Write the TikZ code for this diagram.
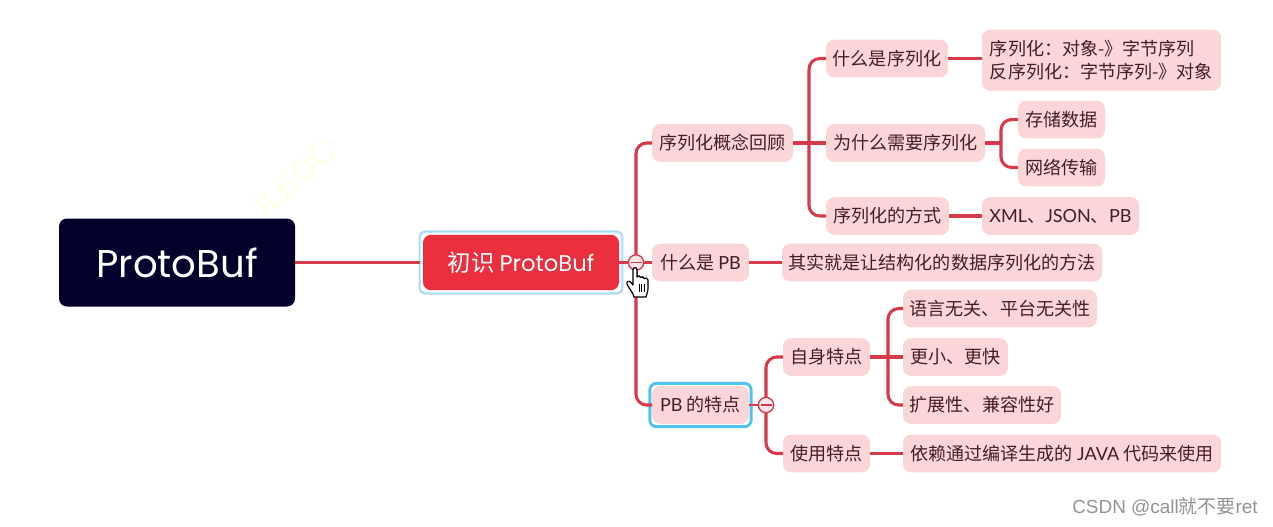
\documentclass[tikz,border=0pt]{standalone}
\usepackage{fontspec}
\setmainfont{Noto Sans CJK SC}
\newfontfamily\latf{Lato}
\newfontfamily\titlef{Poppins}
\newfontfamily\markf{Liberation Sans}
\definecolor{linkc}{HTML}{D63A4B}
\definecolor{pinkc}{HTML}{FBD6D8}
\definecolor{textc}{HTML}{4A1C22}
\definecolor{navyc}{HTML}{03002B}
\definecolor{redc}{HTML}{EC2F3E}
\definecolor{hlc}{HTML}{A8DCF5}
\definecolor{selc}{HTML}{4FC3EE}
\tikzset{
  x=0.75pt,y=-0.75pt,
  boxn/.style={fill=pinkc,rounded corners=6pt,text=textc,font=\fontsize{13.55}{17}\selectfont,inner sep=0pt,outer sep=0pt,align=left,minimum height=28.2pt},
  link/.style={draw=linkc,line width=2.3pt,rounded corners=8pt},
  toggle/.style={circle,draw=linkc,fill=pinkc!60!white,line width=1pt,minimum size=11.5pt,inner sep=0pt,outer sep=0pt},
}
\newcommand{\bx}[5]{\node[boxn,minimum width=#3*0.75pt] (#1) at (#2) {\raisebox{-0.6pt}{#4}};}
\begin{document}
\begin{tikzpicture}
\useasboundingbox (0,0) rectangle (1273,526);
\fill[white] (0,0) rectangle (1273,526);
% faint background mark
\node[text=yellow!10!white,rotate=42,inner sep=0pt,font=\markf\fontsize{24}{26}\selectfont] (bgm) at (295,178) {ILEOC};
% nodes
\node[fill=navyc,rounded corners=6pt,text=white,minimum width=177pt,minimum height=66pt,inner sep=0pt,outer sep=0pt,font=\titlef\fontsize{29}{32}\selectfont] (root) at (177,262.5) {ProtoBuf};
\node[draw=hlc,line width=1.6pt,rounded corners=4pt,minimum width=152pt,minimum height=46.5pt,inner sep=0pt,outer sep=0pt] (mainhl) at (521,262.5) {};
\node[fill=redc,rounded corners=6pt,text=white,minimum width=147pt,minimum height=41.5pt,inner sep=0pt,outer sep=0pt,font=\fontsize{17.5}{20}\selectfont] (main) at (521,262.5) {初识 {\titlef\fontsize{17}{20}\selectfont ProtoBuf}};
\coordinate (t1) at (636,262.5);
\coordinate (t2) at (809,143);
\coordinate (t3) at (1001,143);
\coordinate (t4) at (766,405);
\coordinate (t5) at (888,357);
% boxes: name, centre, width, text
\bx{a}{722.5,143}{141}{序列化概念回顾}{}
\bx{b}{700.5,262.5}{97}{什么是 {\latf PB}}{}
\node[draw=selc,line width=2.2pt,rounded corners=5pt,minimum width=76pt,minimum height=32.5pt,inner sep=0pt,outer sep=0pt] (chl) at (700.5,405) {};
\bx{c}{700.5,405}{97}{{\latf PB} 的特点}{}
\bx{a1}{887,58.5}{122}{什么是序列化}{}
\bx{a2}{905.5,143}{159}{为什么需要序列化}{}
\bx{a3}{887.5,216}{123}{序列化的方式}{}
\node[boxn,minimum width=179.25pt,minimum height=45.7pt,yshift=-0.4pt] (a1x) at (1101.5,59.5) {序列化：对象-》字节序列\\反序列化：字节序列-》对象};
\bx{a21}{1061.5,119.5}{87}{存储数据}{}
\bx{a22}{1061.5,167.5}{87}{网络传输}{}
\bx{a31}{1060.5,216}{157}{{\latf XML}、{\latf JSON}、{\latf PB}}{}
\bx{b1}{942,262.5}{320}{其实就是让结构化的数据序列化的方法}{}
\bx{c1}{826.5,357}{87}{自身特点}{}
\bx{c2}{826.5,453.5}{87}{使用特点}{}
\bx{c11}{1000,308.5}{194}{语言无关、平台无关性}{}
\bx{c12}{955.5,357}{105}{更小、更快}{}
\bx{c13}{982,405}{158}{扩展性、兼容性好}{}
\bx{c21}{1062,453.5}{318}{依赖通过编译生成的 {\latf JAVA} 代码来使用}{}
% connectors
\draw[link] (root.east) -- (mainhl.west);
\draw[link,line width=1.6pt] (main.east) -- (t1);
\draw[link] (t1) |- (a.west);
\draw[link] (t1) |- (c.west);
\draw[link] (t1) -- (b.west);
\draw[link] (a.east) -- (t2);
\draw[link] (t2) |- (a1.west);
\draw[link] (t2) |- (a3.west);
\draw[link] (t2) -- (a2.west);
\draw[link] (a1.east) -- (a1.east -| a1x.west);
\draw[link] (a2.east) -- (t3);
\draw[link] (t3) |- (a21.west);
\draw[link] (t3) |- (a22.west);
\draw[link] (a3.east) -- (a31.west);
\draw[link] (b.east) -- (b1.west);
\draw[link,line width=1.6pt] (c.east) -- (t4);
\draw[link] (t4) |- (c1.west);
\draw[link] (t4) |- (c2.west);
\draw[link] (c1.east) -- (c12.west);
\draw[link] (t5) |- (c11.west);
\draw[link] (t5) |- (c13.west);
\draw[link] (c2.east) -- (c21.west);
% toggles
\node[toggle] (tg1) at (t1) {};
\draw[linkc,line width=1pt] (630.5,262.5) -- (641.5,262.5);
\node[toggle] (tg2) at (t4) {};
\draw[linkc,line width=1pt] (760.5,405) -- (771.5,405);
% hand cursor
\draw[black,fill=white,line width=0.9pt,line join=round]
 (633,269.5) .. controls (633,267) and (637,267) .. (637,269.5) -- (637,277)
 .. controls (638,275) and (640.5,275.5) .. (640.5,277.5)
 .. controls (641.5,276) and (644,276.5) .. (644,278.5)
 .. controls (645,277.5) and (648,278) .. (648,280)
 -- (648,288) .. controls (648,292) and (646.5,294) .. (646,297)
 -- (634,297) .. controls (633,292) and (629,289) .. (627,284)
 .. controls (626,281.5) and (629,280) .. (631,282.5) -- (633,285) -- cycle;
\draw[black,line width=0.7pt] (639,284) -- (639,292) (641.5,284) -- (641.5,292) (644.5,284) -- (644.5,292);
% watermark
\node[text=black!42,anchor=east,inner sep=0pt,font=\markf\fontsize{14.2}{16}\selectfont] (wm) at (1258,507) {CSDN @call{\rmfamily 就不要}ret};
\end{tikzpicture}
\end{document}
